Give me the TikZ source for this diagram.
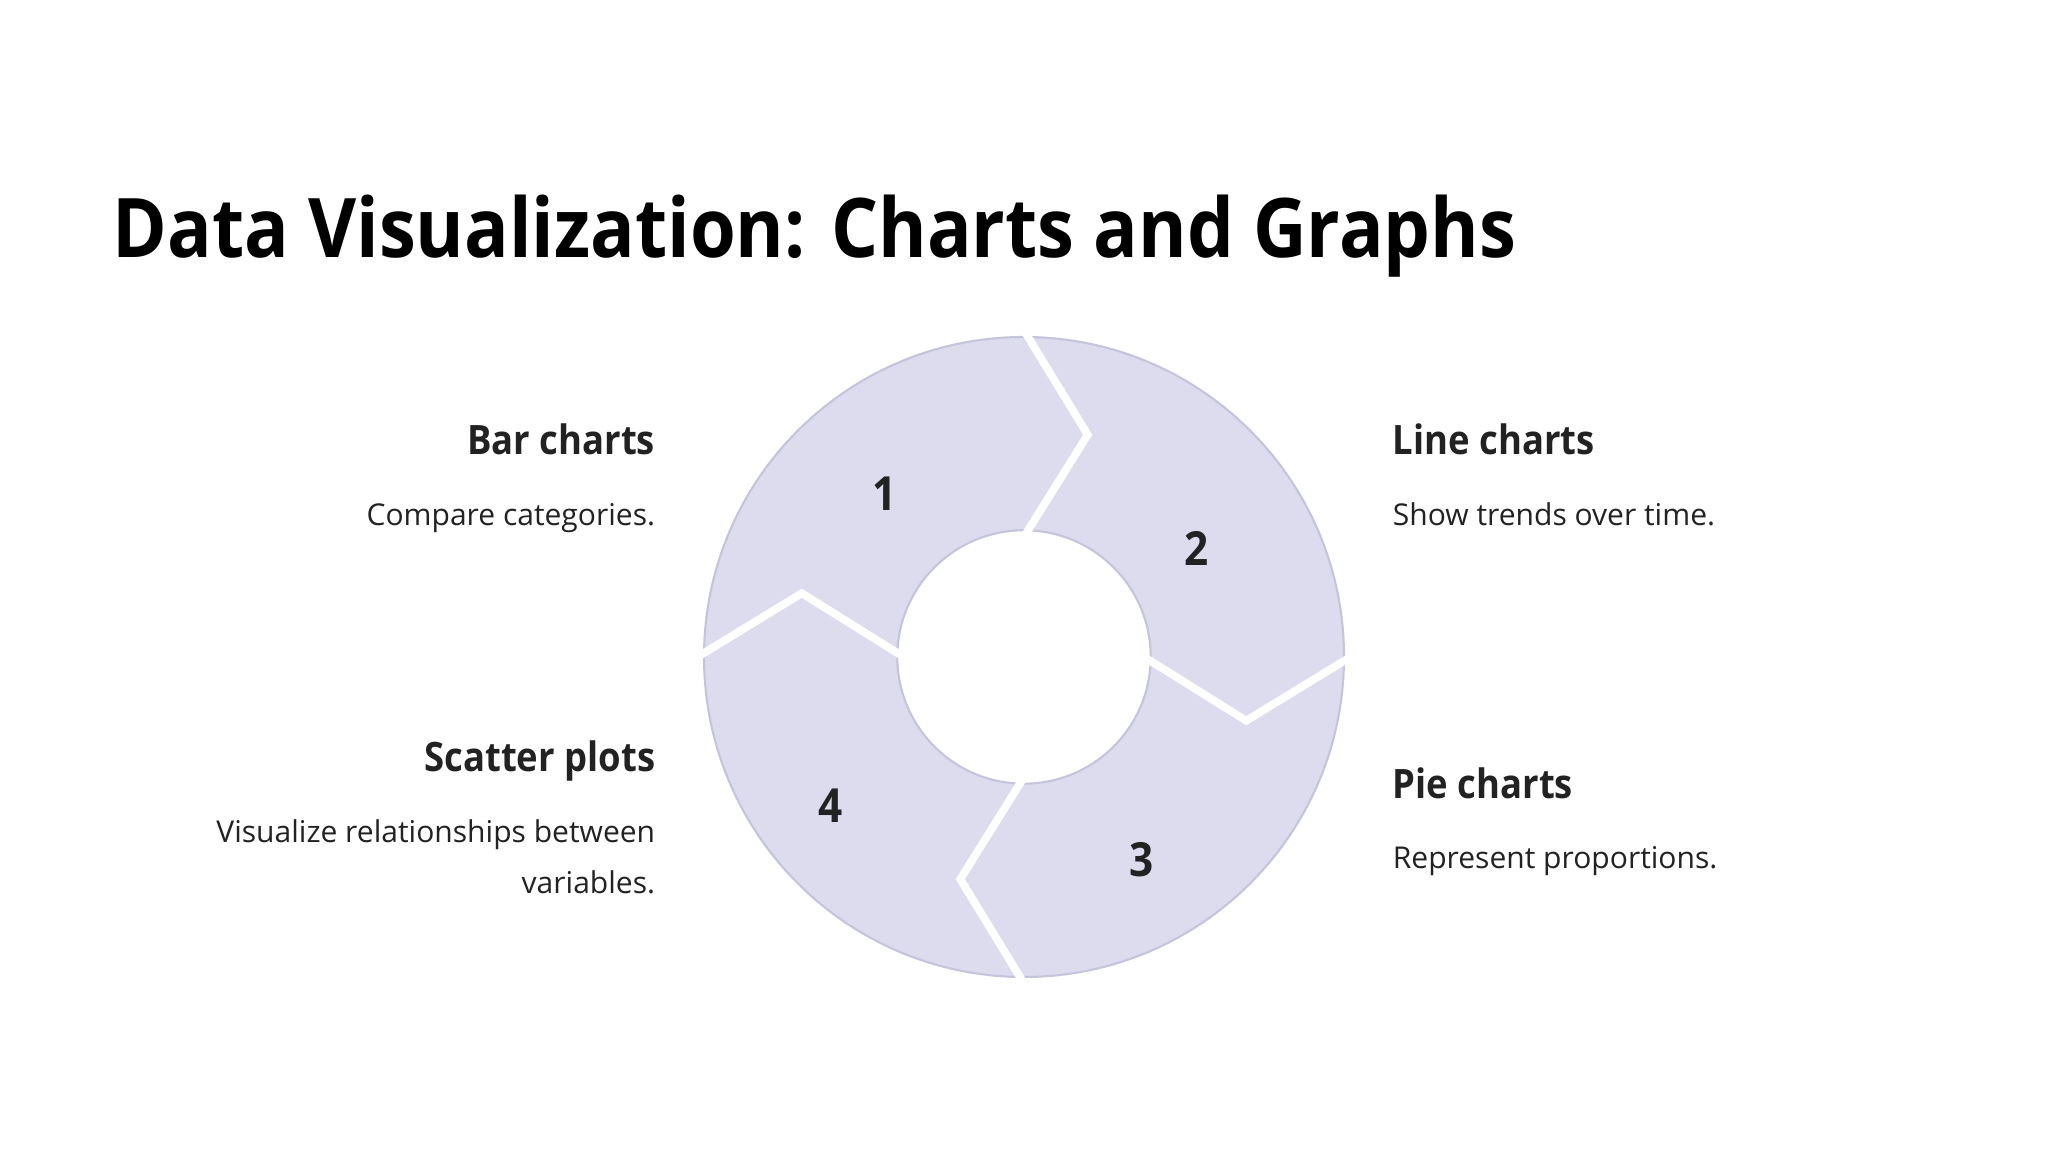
\documentclass[tikz,border=0pt]{standalone}
\usepackage{fontspec}
\setmainfont{Open Sans}
\newfontfamily\boldcond[FakeStretch=0.9]{Open Sans Bold}
\definecolor{seg}{HTML}{DCDCEE}
\definecolor{segline}{HTML}{C4C4DC}
\definecolor{txt}{HTML}{222222}
\begin{document}
\begin{tikzpicture}[x=0.5pt,y=-0.5pt,
  head/.style={font=\fontsize{15.5}{18}\boldcond,text=txt,inner sep=0pt},
  body/.style={font=\fontsize{11.5}{19.5}\selectfont,text=txt,inner sep=0pt},
  num/.style={font=\fontsize{18}{20}\boldcond,text=txt,inner sep=0pt},
  gap/.style={white,line width=3pt,line join=miter}]
\useasboundingbox (0,0) rectangle (1568,882);
\node[anchor=base west,inner sep=0pt,font=\fontsize{31.5}{36}\boldcond] (title) at (86,197) {Data Visualization: Charts and Graphs};
\coordinate (c) at (784,503);
\fill[seg,draw=segline,line width=0.8pt,even odd rule] (c) circle[radius=245] (c) circle[radius=97];
\foreach \a in {90,0,-90,180}{
  \draw[gap] ([shift={(\a:250)}]c) -- ([shift={(\a+16:177)}]c) -- ([shift={(\a:92)}]c);
}
\node[num] (n1) at (677,378) {1};
\node[num] (n2) at (916,420) {2};
\node[num] (n3) at (874,658) {3};
\node[num] (n4) at (636,617) {4};
\node[head,anchor=base east] (h1) at (502,348) {Bar charts};
\node[body,anchor=base east] (b1) at (502,402) {Compare categories.};
\node[head,anchor=base west] (h2) at (1066,348) {Line charts};
\node[body,anchor=base west] (b2) at (1066,402) {Show trends over time.};
\node[head,anchor=base west] (h3) at (1066,611) {Pie charts};
\node[body,anchor=base west] (b3) at (1066,665) {Represent proportions.};
\node[head,anchor=base east] (h4) at (502,591) {Scatter plots};
\node[body,anchor=base east,align=right] (b4) at (502,684) {Visualize relationships between\\variables.};
\end{tikzpicture}
\end{document}
